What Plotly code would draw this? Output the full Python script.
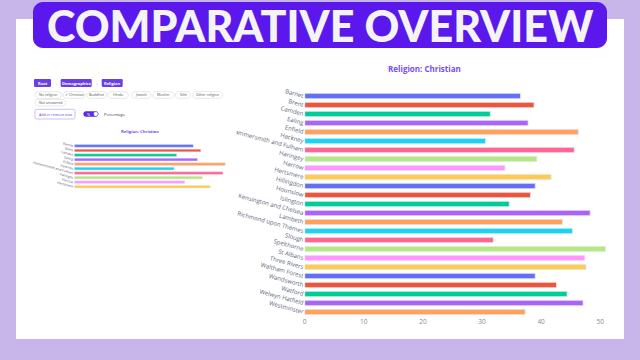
import plotly.graph_objects as go

# ---------------- data ----------------
boroughs = ["Barnet", "Brent", "Camden", "Ealing", "Enfield", "Hackney",
            "Hammersmith and Fulham", "Haringey", "Harrow", "Hertsmere",
            "Hillingdon", "Hounslow", "Islington", "Kensington and Chelsea",
            "Lambeth", "Richmond upon Thames", "Slough", "Spelthorne",
            "St Albans", "Three Rivers", "Waltham Forest", "Wandsworth",
            "Watford", "Welwyn Hatfield", "Westminster"]
christian_pct = [36.5, 38.8, 31.4, 37.8, 46.3, 30.6, 45.6, 39.3, 33.9, 41.7,
                 39.0, 38.2, 34.6, 48.3, 43.6, 45.3, 31.9, 50.9, 47.4, 47.6,
                 39.0, 42.6, 44.4, 47.1, 37.3]
mini_boroughs = boroughs[:10]
mini_pct = christian_pct[:10]
x_ticks = [0, 10, 20, 30, 40, 50]

chart_title = "Religion: Christian"
banner_text = "COMPARATIVE OVERVIEW"
breadcrumb = ["Root", "Demographics", "Religion"]
chips_row1 = ["No religion", "✓ Christian", "Buddhist", "Hindu", "Jewish",
              "Muslim", "Sikh", "Other religion"]
chips_row2 = ["Not answered"]

# ---------------- styles ----------------
W, H = 640, 360
palette = ["#636EFA", "#EF553B", "#00CC96", "#AB63FA", "#FFA15A",
           "#19D3F3", "#FF6692", "#B6E880", "#FF97FF", "#FECB52"]
PURPLE_BG = "#c8b5ea"
BANNER = "#5a18ec"
BTN = "#6b3ee6"
TITLE_C = "#7a4cf2"


def P(x, y):
    return f"{x / W:.5f},{1 - y / H:.5f}"


def rrect_path(x0, y0, x1, y1, r):
    k = 0.5523 * r
    return (f"M {P(x0 + r, y0)} L {P(x1 - r, y0)} "
            f"C {P(x1 - r + k, y0)} {P(x1, y0 + r - k)} {P(x1, y0 + r)} "
            f"L {P(x1, y1 - r)} "
            f"C {P(x1, y1 - r + k)} {P(x1 - r + k, y1)} {P(x1 - r, y1)} "
            f"L {P(x0 + r, y1)} "
            f"C {P(x0 + r - k, y1)} {P(x0, y1 - r + k)} {P(x0, y1 - r)} "
            f"L {P(x0, y0 + r)} "
            f"C {P(x0, y0 + r - k)} {P(x0 + r - k, y0)} {P(x0 + r, y0)} Z")


shapes = []
annotations = []


def add_rr(x0, y0, x1, y1, r, fill, line=None, lw=0):
    shapes.append(dict(type="path", xref="paper", yref="paper", layer="below",
                       path=rrect_path(x0, y0, x1, y1, r), fillcolor=fill,
                       line=dict(color=line or fill, width=lw)))


def add_text(x, y, text, size, color, xanchor="center", weight="normal",
             family="Open Sans"):
    annotations.append(dict(x=x / W, y=1 - y / H, xref="paper", yref="paper",
                            text=text, showarrow=False, xanchor=xanchor,
                            yanchor="middle",
                            font=dict(size=size, color=color, family=family,
                                      weight=weight)))


# white card
shapes.append(dict(type="rect", xref="paper", yref="paper", layer="below",
                   x0=16 / W, x1=624 / W, y0=1 - 339 / H, y1=1 - 19 / H,
                   fillcolor="white", line=dict(width=0)))
# banner
add_rr(33, 2, 607, 48, 10, BANNER)
add_text(320, 26, banner_text, 43, "#f4f4f6", weight=900, family="Lato")

# breadcrumb buttons
bc_pos = [(34, 51), (60.7, 91.7), (101.7, 122.7)]
for (x0, x1), lab in zip(bc_pos, breadcrumb):
    add_rr(x0, 79, x1, 87, 1.2, BTN)
    add_text((x0 + x1) / 2, 83, f"<b>{lab}</b>", 4, "white")
for xa in [55.8, 96.2]:
    add_text(xa, 83, "→", 4.5, "#666")

# chips
chip_pos1 = [(35, 61.7), (63, 85), (86.7, 106.7), (107.7, 128.3),
             (131.7, 151), (152.7, 174), (175.3, 190.7), (192.7, 222.7)]
for (x0, x1), lab in zip(chip_pos1, chips_row1):
    add_rr(x0, 91.7, x1, 98.3, 3.3, "white", "#d6d6de", 0.6)
    add_text((x0 + x1) / 2, 95, lab, 3.6, "#555")
for (x0, x1), lab in zip([(35, 65.7)], chips_row2):
    add_rr(x0, 99.3, x1, 106, 3.3, "white", "#d6d6de", 0.6)
    add_text((x0 + x1) / 2, 102.7, lab, 3.6, "#555")

# add/remove area button and toggle
add_rr(35, 109.3, 75, 119, 1.5, "white", "#b9a4f3", 0.7)
add_text(55, 114.2, "Add or remove area", 3.6, "#6a45d8")
add_rr(83.3, 111.3, 98.3, 116.7, 2.7, "#5a2ee0")
shapes.append(dict(type="circle", xref="paper", yref="paper", layer="above",
                   x0=93.5 / W, x1=98.1 / W, y0=1 - 116.4 / H,
                   y1=1 - 111.6 / H, fillcolor="white",
                   line=dict(color="#5a2ee0", width=0.5)))
add_text(88.5, 114, "%", 3.6, "white")
add_text(101.7, 114, "Percentage", 4, "#333", xanchor="left")

# crop edge of the big chart screenshot (clips the longest labels)
shapes.append(dict(type="rect", xref="paper", yref="paper", layer="above",
                   x0=227.5 / W, x1=236.5 / W, y0=1 - 200 / H,
                   y1=1 - 118 / H, fillcolor="white", line=dict(width=0)))

# chart titles
add_text(140, 131, f"<b>{chart_title}</b>", 4.2, TITLE_C)
add_text(424, 68, f"<b>{chart_title}</b>", 8, TITLE_C)

fig = go.Figure()
fig.add_trace(go.Bar(
    x=christian_pct, y=boroughs, orientation="h",
    marker=dict(color=[palette[i % 10] for i in range(len(boroughs))],
                line=dict(color="#E5ECF6", width=0.8)),
    width=0.6, xaxis="x", yaxis="y", showlegend=False, hoverinfo="x+y"))
fig.add_trace(go.Bar(
    x=mini_pct, y=mini_boroughs, orientation="h",
    marker=dict(color=[palette[i % 10] for i in range(len(mini_boroughs))],
                line=dict(color="#E5ECF6", width=0.4)),
    width=0.6, xaxis="x2", yaxis="y2", showlegend=False, hoverinfo="x+y"))

fig.update_layout(
    width=W, height=H, margin=dict(l=0, r=0, t=0, b=0, autoexpand=False),
    paper_bgcolor=PURPLE_BG, plot_bgcolor="rgba(0,0,0,0)",
    font=dict(family="Open Sans"),
    xaxis=dict(domain=[304.7 / W, 621.5 / W], range=[0, 53.6],
               tickvals=x_ticks, showgrid=False, zeroline=False,
               showline=False, ticks="", anchor="y", automargin=False,
               tickfont=dict(size=6.5, color="#858b96")),
    yaxis=dict(domain=[1 - 316.5 / H, 1 - 91.5 / H], autorange="reversed",
               type="category", categoryorder="array", categoryarray=boroughs,
               tickangle=15, showgrid=False, zeroline=False, ticks="",
               anchor="x", automargin=False,
               tickfont=dict(size=6, color="#5b6478")),
    xaxis2=dict(domain=[74.3 / W, 249 / W], range=[0, 53.6], visible=False,
                anchor="y2", automargin=False),
    yaxis2=dict(domain=[1 - 189 / H, 1 - 143.7 / H], autorange="reversed",
                type="category", categoryorder="array",
                categoryarray=mini_boroughs, tickangle=15, showgrid=False,
                zeroline=False, ticks="", anchor="x2", automargin=False,
                tickfont=dict(size=3.3, color="#5b6478")),
    shapes=shapes, annotations=annotations,
)

fig.write_html(
    "out.html",
    config={"displayModeBar": False},
    post_script=("document.body.style.margin='0';"
                 "document.body.style.background='#c8b5ea';"),
)
